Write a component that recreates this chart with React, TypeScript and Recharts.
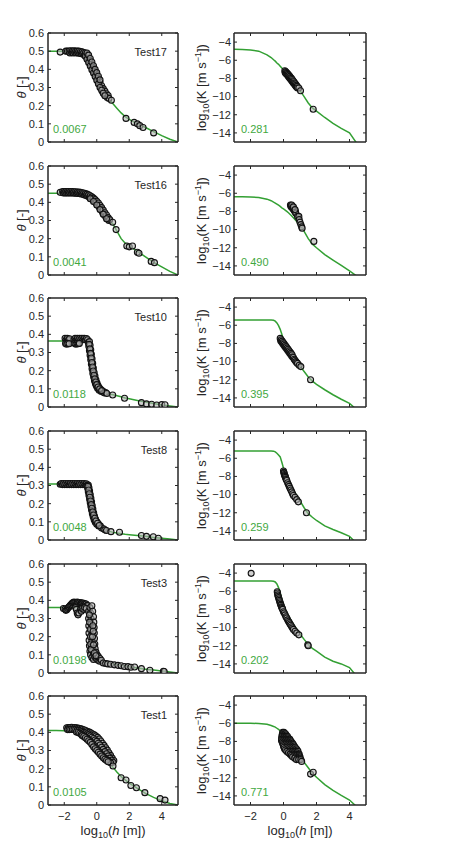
import { Fragment } from "react"
import { ComposedChart, Line, Scatter, XAxis, YAxis } from "recharts"

// log10(h) positions shared by every fitted curve
const hGrid = [-3, -2.5, -2, -1.5, -1, -0.75, -0.6, -0.5, -0.4, -0.3, -0.2, -0.1, 0, 0.1, 0.2, 0.3, 0.5, 0.75, 1, 1.25, 1.5, 1.75, 2, 2.5, 3, 3.5, 4, 4.5, 5]

const hTicks = [-2, 0, 2, 4]
const thetaTicks = [0, 0.1, 0.2, 0.3, 0.4, 0.5, 0.6]
const kTicks = [-14, -12, -10, -8, -6, -4]

// ---- Test17 ----
const test17ThetaFit = [0.5, 0.5, 0.5, 0.497, 0.485, 0.47, 0.458, 0.448, 0.435, 0.42, 0.403, 0.385, 0.365, 0.345, 0.322, 0.3, 0.265, 0.237, 0.21, 0.185, 0.16, 0.14, 0.125, 0.1, 0.08, 0.057, 0.035, 0.015, 0]
const test17KFit = [-4.8, -4.82, -4.88, -5.0, -5.4, -5.7, -5.95, -6.1, -6.3, -6.45, -6.65, -6.85, -7.05, -7.25, -7.45, -7.65, -8.1, -8.65, -9.35, -10.0, -10.7, -11.25, -11.6, -12.3, -12.95, -13.5, -14.0, -15.3, null]
const test17ThetaObs: [number, number][] = [
  [-2.25, 0.495], [-1.9, 0.5], [-1.8, 0.5],
  [-1.7, 0.5], [-1.65, 0.49], [-1.6, 0.502], [-1.55, 0.492], [-1.5, 0.5], [-1.45, 0.49], [-1.4, 0.502], [-1.35, 0.492],
  [-1.3, 0.5], [-1.25, 0.49], [-1.2, 0.5], [-1.15, 0.49], [-1.1, 0.5], [-1.05, 0.488], [-1.0, 0.498], [-0.95, 0.486],
  [-0.9, 0.496], [-0.85, 0.484], [-0.8, 0.492], [-0.75, 0.478], [-0.7, 0.49], [-0.65, 0.47], [-0.6, 0.48], [-0.55, 0.455],
  [-0.5, 0.465], [-0.45, 0.437], [-0.4, 0.447], [-0.35, 0.417], [-0.3, 0.427], [-0.25, 0.397], [-0.2, 0.407], [-0.15, 0.378],
  [-0.1, 0.389], [-0.05, 0.358], [0, 0.37], [0.05, 0.338], [0.1, 0.35], [0.15, 0.318], [0.2, 0.33], [0.25, 0.298],
  [0.3, 0.31], [0.35, 0.28], [0.4, 0.294], [0.45, 0.266], [0.5, 0.28], [0.55, 0.255], [0.6, 0.266], [0.65, 0.245],
  [0.7, 0.256], [0.75, 0.24],
  [-0.7, 0.472], [-0.6, 0.455], [-0.5, 0.437], [-0.4, 0.418], [-0.3, 0.398], [-0.2, 0.38], [-0.1, 0.36], [0, 0.34],
  [0.1, 0.32], [0.2, 0.3], [0.3, 0.285], [0.4, 0.268], [0.5, 0.255],
  [-0.6, 0.49], [-0.5, 0.478], [-0.4, 0.46], [-0.3, 0.44], [-0.2, 0.42], [-0.1, 0.4], [0, 0.382], [0.1, 0.362], [0.2, 0.342],
  [0.9, 0.23], [1.8, 0.13], [2.3, 0.108], [2.5, 0.1], [2.65, 0.09], [2.85, 0.08], [3.5, 0.05],
]
const test17KObs: [number, number][] = [
  [0.08, -7.15], [0.1, -7.35], [0.13, -7.25], [0.15, -7.45], [0.18, -7.35], [0.2, -7.55], [0.23, -7.45], [0.25, -7.65],
  [0.28, -7.55], [0.3, -7.78], [0.33, -7.65], [0.35, -7.9], [0.38, -7.78], [0.4, -8.0], [0.43, -7.9], [0.45, -8.12],
  [0.48, -8.0], [0.5, -8.25], [0.53, -8.12], [0.55, -8.37], [0.58, -8.25], [0.6, -8.5], [0.63, -8.37], [0.65, -8.6],
  [0.68, -8.5], [0.7, -8.72], [0.73, -8.62], [0.75, -8.85], [0.78, -8.75], [0.8, -8.95], [0.83, -8.88], [0.85, -9.05],
  [0.93, -9.05], [1.03, -9.35], [1.8, -11.4],
]

// ---- Test16 ----
const test16ThetaFit = [0.45, 0.45, 0.45, 0.448, 0.44, 0.435, 0.43, 0.425, 0.42, 0.41, 0.4, 0.39, 0.38, 0.37, 0.36, 0.35, 0.33, 0.305, 0.28, 0.24, 0.2, 0.175, 0.16, 0.13, 0.1, 0.07, 0.045, 0.02, 0]
const test16KFit = [-6.38, -6.38, -6.4, -6.47, -6.65, -6.82, -6.98, -7.08, -7.2, -7.32, -7.45, -7.6, -7.72, -7.85, -8.0, -8.15, -8.5, -9.0, -9.55, -10.2, -11.0, -11.6, -12.0, -12.75, -13.35, -13.95, -14.55, -15.2, null]
const test16ThetaObs: [number, number][] = [
  [-2.25, 0.455], [-2.1, 0.46], [-2.05, 0.452], [-2.0, 0.46], [-1.95, 0.452], [-1.9, 0.46], [-1.85, 0.452], [-1.8, 0.46],
  [-1.75, 0.452], [-1.7, 0.46], [-1.65, 0.452], [-1.6, 0.46], [-1.55, 0.452], [-1.5, 0.46], [-1.45, 0.452], [-1.4, 0.458],
  [-1.35, 0.45], [-1.3, 0.458], [-1.25, 0.45], [-1.2, 0.457], [-1.15, 0.449], [-1.1, 0.456], [-1.05, 0.448], [-1.0, 0.455],
  [-0.95, 0.446], [-0.9, 0.453], [-0.85, 0.444], [-0.8, 0.451], [-0.75, 0.441], [-0.7, 0.448], [-0.65, 0.438], [-0.6, 0.445],
  [-0.55, 0.434], [-0.5, 0.441], [-0.45, 0.428], [-0.4, 0.436], [-0.35, 0.422], [-0.3, 0.43], [-0.25, 0.415], [-0.2, 0.423],
  [-0.15, 0.406], [-0.1, 0.415], [-0.05, 0.397], [0, 0.406], [0.05, 0.386], [0.1, 0.396], [0.15, 0.374], [0.2, 0.384],
  [0.25, 0.361], [0.3, 0.371], [0.35, 0.347], [0.4, 0.357], [0.45, 0.333], [0.5, 0.343], [0.55, 0.32], [0.6, 0.33],
  [0.65, 0.308], [0.7, 0.316], [0.75, 0.3], [0.8, 0.305],
  [-0.4, 0.42], [-0.2, 0.405], [0, 0.385], [0.2, 0.36], [0.4, 0.335], [0.6, 0.31],
  [0.98, 0.29], [1.19, 0.25], [1.85, 0.16], [2.0, 0.155], [2.2, 0.16], [2.5, 0.125], [2.6, 0.12], [3.35, 0.075], [3.55, 0.068],
]
const test16KObs: [number, number][] = [
  [0.42, -7.3], [0.45, -7.45], [0.48, -7.35], [0.5, -7.55], [0.52, -7.45], [0.55, -7.65], [0.57, -7.55], [0.6, -7.75],
  [0.62, -7.7], [0.65, -7.9], [0.67, -7.85], [0.7, -8.05], [0.72, -8.0], [0.75, -8.2], [0.5, -7.3], [0.6, -7.5], [0.7, -7.8],
  [0.85, -8.55], [0.93, -8.55], [0.95, -8.9], [1.0, -9.2], [1.05, -9.45], [1.1, -9.7], [1.13, -9.85], [1.84, -11.3],
]

// ---- Test10 ----
const test10ThetaFit = [0.363, 0.363, 0.363, 0.363, 0.363, 0.362, 0.358, 0.345, 0.32, 0.285, 0.24, 0.18, 0.14, 0.118, 0.102, 0.092, 0.08, 0.072, 0.067, 0.062, 0.056, 0.05, 0.045, 0.036, 0.027, 0.019, 0.011, 0.005, 0]
const test10KFit = [-5.42, -5.42, -5.42, -5.42, -5.42, -5.42, -5.45, -5.55, -5.75, -6.05, -6.45, -7.0, -7.7, -8.0, -8.3, -8.6, -9.2, -9.85, -10.5, -11.1, -11.7, -12.15, -12.5, -13.1, -13.65, -14.15, -14.6, -15.4, null]
const test10ThetaObs: [number, number][] = [
  [-1.95, 0.378], [-1.88, 0.37], [-1.81, 0.378], [-1.74, 0.37], [-1.67, 0.376],
  [-1.4, 0.37], [-1.33, 0.378], [-1.26, 0.37], [-1.19, 0.378], [-1.12, 0.37], [-1.05, 0.378], [-0.98, 0.37], [-0.91, 0.378],
  [-0.84, 0.37], [-0.77, 0.378], [-0.7, 0.37], [-0.63, 0.377], [-0.56, 0.37],
  [-1.92, 0.35], [-1.85, 0.346], [-1.78, 0.35], [-1.7, 0.348], [-1.35, 0.35], [-1.28, 0.346], [-1.21, 0.35], [-1.14, 0.348], [-1.07, 0.35],
  [-0.52, 0.355], [-0.45, 0.36], [-0.49, 0.335], [-0.41, 0.34], [-0.45, 0.31], [-0.37, 0.315], [-0.41, 0.285], [-0.33, 0.29],
  [-0.37, 0.26], [-0.29, 0.265], [-0.33, 0.235], [-0.25, 0.24], [-0.29, 0.21], [-0.21, 0.215], [-0.24, 0.185], [-0.16, 0.19],
  [-0.19, 0.165], [-0.11, 0.17], [-0.14, 0.145], [-0.05, 0.15], [-0.08, 0.128], [0.01, 0.133], [-0.02, 0.115], [0.07, 0.12],
  [0.05, 0.103], [0.14, 0.108], [0.15, 0.092], [0.24, 0.097], [0.28, 0.085], [0.38, 0.088], [0.45, 0.078], [0.55, 0.08], [0.62, 0.074],
  [-0.47, 0.345], [-0.42, 0.32], [-0.38, 0.295], [-0.34, 0.27], [-0.3, 0.245], [-0.26, 0.22], [-0.22, 0.198], [-0.17, 0.175],
  [-0.12, 0.155], [-0.06, 0.138], [0, 0.123], [0.08, 0.11], [0.18, 0.1], [0.3, 0.09],
  [0.98, 0.066], [1.71, 0.048], [2.75, 0.024], [3.06, 0.017], [3.375, 0.015], [3.69, 0.011], [4.0, 0.013], [4.2, 0.012],
]
const test10KObs: [number, number][] = [
  [-0.2, -7.45], [-0.17, -7.7], [-0.14, -7.6], [-0.11, -7.85], [-0.08, -7.75], [-0.05, -8.0], [-0.02, -7.9], [0.01, -8.15],
  [0.04, -8.05], [0.07, -8.3], [0.1, -8.2], [0.13, -8.45], [0.16, -8.35], [0.19, -8.6], [0.22, -8.5], [0.25, -8.75],
  [0.28, -8.65], [0.31, -8.9], [0.34, -8.8], [0.37, -9.05], [0.4, -8.95], [0.43, -9.2], [0.46, -9.1], [0.49, -9.35],
  [0.52, -9.25], [0.55, -9.5], [0.6, -9.55], [0.65, -9.75], [0.7, -9.85], [0.75, -10.0], [0.8, -10.1], [0.85, -10.2],
  [0.95, -10.4], [1.05, -10.55], [1.64, -12.0],
]

// ---- Test8 ----
const test8ThetaFit = [0.308, 0.308, 0.308, 0.308, 0.308, 0.306, 0.295, 0.275, 0.235, 0.19, 0.145, 0.11, 0.092, 0.083, 0.076, 0.07, 0.058, 0.049, 0.042, 0.038, 0.034, 0.031, 0.029, 0.025, 0.02, 0.014, 0.009, 0.005, 0]
const test8KFit = [-5.2, -5.2, -5.2, -5.2, -5.2, -5.2, -5.22, -5.3, -5.45, -5.65, -5.85, -6.45, -7.1, -7.55, -8.0, -8.45, -9.25, -9.95, -10.7, -11.45, -12.1, -12.5, -12.85, -13.45, -13.85, -14.2, -14.6, -15.5, null]
const test8ThetaObs: [number, number][] = [
  [-2.25, 0.307], [-2.18, 0.311], [-2.11, 0.305], [-2.04, 0.311], [-1.97, 0.305], [-1.9, 0.311], [-1.83, 0.305], [-1.76, 0.311],
  [-1.69, 0.305], [-1.62, 0.311], [-1.55, 0.305], [-1.48, 0.311], [-1.41, 0.305], [-1.34, 0.311], [-1.27, 0.305], [-1.2, 0.311],
  [-1.13, 0.305], [-1.06, 0.311], [-0.99, 0.305], [-0.92, 0.311], [-0.85, 0.305], [-0.78, 0.311], [-0.71, 0.305], [-0.64, 0.31],
  [-0.58, 0.303],
  [-0.6, 0.3], [-0.52, 0.302], [-0.56, 0.285], [-0.48, 0.288], [-0.52, 0.265], [-0.44, 0.27], [-0.48, 0.245], [-0.4, 0.25],
  [-0.44, 0.225], [-0.36, 0.23], [-0.4, 0.205], [-0.32, 0.21], [-0.36, 0.185], [-0.28, 0.19], [-0.32, 0.165], [-0.24, 0.17],
  [-0.27, 0.145], [-0.19, 0.15], [-0.22, 0.128], [-0.14, 0.132], [-0.16, 0.112], [-0.08, 0.116], [-0.09, 0.098], [0, 0.102],
  [0, 0.087], [0.09, 0.09], [0.12, 0.077], [0.22, 0.078], [0.3, 0.066], [0.42, 0.062], [0.5, 0.056], [0.6, 0.052],
  [-0.54, 0.295], [-0.5, 0.275], [-0.46, 0.255], [-0.42, 0.235], [-0.38, 0.215], [-0.34, 0.195], [-0.3, 0.175], [-0.25, 0.155],
  [-0.2, 0.138], [-0.12, 0.12], [-0.05, 0.105], [0.05, 0.092], [0.15, 0.08],
  [0.875, 0.046], [1.4, 0.043], [2.75, 0.025], [3.06, 0.02], [3.48, 0.018], [3.79, 0.01],
]
const test8KObs: [number, number][] = [
  [0.0, -7.4], [0.02, -7.55], [0.04, -7.65], [0.05, -7.8], [0.08, -7.9], [0.1, -8.0], [0.12, -8.1], [0.15, -8.25],
  [0.17, -8.35], [0.2, -8.45], [0.25, -8.7], [0.3, -8.9], [0.35, -9.1], [0.4, -9.3], [0.45, -9.5], [0.5, -9.7],
  [0.55, -9.9], [0.6, -10.1], [0.7, -10.3], [0.8, -10.55], [0.9, -10.8], [1.39, -12.0],
]

// ---- Test3 ----
const test3ThetaFit = [0.36, 0.36, 0.36, 0.36, 0.36, 0.36, 0.36, 0.345, 0.26, 0.16, 0.125, 0.1, 0.088, 0.08, 0.074, 0.069, 0.061, 0.055, 0.05, 0.046, 0.042, 0.038, 0.034, 0.027, 0.021, 0.016, 0.011, 0.005, 0]
const test3KFit = [-4.87, -4.87, -4.87, -4.87, -4.87, -4.87, -4.9, -4.98, -5.2, -5.6, -6.2, -6.95, -7.5, -7.95, -8.35, -8.72, -9.35, -10.05, -10.7, -11.3, -11.85, -12.3, -12.6, -13.25, -13.7, -14.0, -14.4, -15.5, null]
const test3ThetaObs: [number, number][] = [
  [-2.05, 0.355], [-1.95, 0.352], [-1.9, 0.345], [-1.85, 0.348], [-1.8, 0.355], [-1.75, 0.36], [-1.7, 0.365], [-1.65, 0.37],
  [-1.6, 0.375], [-1.55, 0.38], [-1.5, 0.385], [-1.45, 0.388], [-1.4, 0.39], [-1.35, 0.388], [-1.3, 0.385], [-1.25, 0.38],
  [-1.2, 0.39], [-1.15, 0.388], [-1.1, 0.385], [-1.05, 0.388], [-1.0, 0.382], [-0.95, 0.386], [-0.9, 0.382], [-0.85, 0.385],
  [-0.8, 0.38], [-0.75, 0.382], [-0.7, 0.378], [-0.65, 0.38], [-0.6, 0.372], [-0.55, 0.37],
  [-1.3, 0.36], [-1.25, 0.35], [-1.2, 0.33], [-1.15, 0.32], [-1.1, 0.33], [-1.0, 0.35], [-0.95, 0.34], [-0.9, 0.355],
  [-0.8, 0.35], [-0.75, 0.36], [-0.65, 0.355],
  [-0.5, 0.34], [-0.5, 0.3], [-0.49, 0.26], [-0.48, 0.22], [-0.47, 0.18], [-0.45, 0.15], [-0.42, 0.12], [-0.38, 0.1],
  [-0.3, 0.085], [-0.2, 0.075],
  [-0.42, 0.36], [-0.38, 0.33], [-0.35, 0.3], [-0.33, 0.27], [-0.32, 0.24], [-0.31, 0.21], [-0.3, 0.18], [-0.28, 0.15],
  [-0.25, 0.125], [-0.2, 0.105], [-0.12, 0.09], [-0.03, 0.08], [0.08, 0.07], [0.18, 0.065],
  [-0.3, 0.37], [-0.25, 0.34], [-0.2, 0.31], [-0.18, 0.28], [-0.16, 0.25], [-0.15, 0.22], [-0.14, 0.19], [-0.12, 0.16],
  [-0.1, 0.135], [-0.05, 0.115], [0.02, 0.1], [0.1, 0.09], [0.2, 0.08], [0.28, 0.07],
  [-0.45, 0.32], [-0.44, 0.28], [-0.4, 0.24], [-0.39, 0.2], [-0.37, 0.16], [-0.35, 0.13], [-0.26, 0.2], [-0.24, 0.26],
  [-0.22, 0.23], [-0.2, 0.155], [-0.15, 0.11], [-0.05, 0.095],
  [0.4, 0.055], [0.55, 0.052], [0.67, 0.05], [0.85, 0.048], [1.08, 0.045], [1.3, 0.042], [1.5, 0.04], [1.7, 0.036],
  [1.92, 0.035], [2.1, 0.032], [2.33, 0.033], [2.75, 0.024], [3.27, 0.015], [4.1, 0.01], [4.15, 0.008],
]
const test3KObs: [number, number][] = [
  [-1.96, -4.03], [-0.38, -6.05], [-0.36, -6.2], [-0.35, -6.4], [-0.32, -6.55], [-0.3, -6.7], [-0.27, -6.85], [-0.25, -7.0],
  [-0.22, -7.15], [-0.2, -7.3], [-0.17, -7.45], [-0.15, -7.55], [-0.12, -7.7], [-0.1, -7.8], [-0.07, -7.9], [-0.05, -8.0],
  [0, -8.25], [0.05, -8.4], [0.1, -8.6], [0.15, -8.8], [0.2, -8.95], [0.25, -9.15], [0.3, -9.3], [0.35, -9.45],
  [0.4, -9.6], [0.45, -9.75], [0.5, -9.9], [0.55, -10.05], [0.6, -10.2], [0.7, -10.4], [0.8, -10.6], [0.93, -10.8],
  [1.47, -11.9], [1.5, -12.0],
]

// ---- Test1 ----
const test1ThetaFit = [0.41, 0.41, 0.409, 0.406, 0.4, 0.393, 0.387, 0.382, 0.375, 0.367, 0.358, 0.348, 0.337, 0.325, 0.312, 0.3, 0.278, 0.24, 0.207, 0.18, 0.157, 0.138, 0.12, 0.092, 0.064, 0.042, 0.023, 0.008, 0]
const test1KFit = [-6.0, -6.0, -6.0, -6.03, -6.12, -6.25, -6.35, -6.43, -6.55, -6.68, -6.83, -6.98, -7.13, -7.3, -7.45, -7.65, -8.1, -8.85, -9.6, -10.3, -10.9, -11.5, -11.95, -12.75, -13.4, -13.95, -14.45, -15.3, null]
const test1ThetaObs: [number, number][] = [
  [-1.85, 0.425], [-1.75, 0.426], [-1.65, 0.427], [-1.55, 0.428], [-1.45, 0.427], [-1.35, 0.426], [-1.25, 0.425], [-1.15, 0.423],
  [-1.05, 0.421], [-0.95, 0.419], [-0.85, 0.416], [-0.75, 0.413], [-0.65, 0.409], [-0.55, 0.405], [-0.45, 0.401], [-0.35, 0.396],
  [-0.25, 0.391], [-0.15, 0.386], [-0.05, 0.38], [0.05, 0.372], [0.15, 0.363], [0.25, 0.352], [0.35, 0.34], [0.45, 0.328],
  [0.55, 0.315], [0.65, 0.302], [0.75, 0.288], [0.85, 0.273], [0.95, 0.258], [1.05, 0.245],
  [-1.8, 0.415], [-1.7, 0.415], [-1.6, 0.416], [-1.5, 0.416], [-1.4, 0.415], [-1.3, 0.414], [-1.2, 0.412], [-1.1, 0.41],
  [-1.0, 0.407], [-0.9, 0.404], [-0.8, 0.4], [-0.7, 0.396], [-0.6, 0.391], [-0.5, 0.386], [-0.4, 0.38], [-0.3, 0.373],
  [-0.2, 0.366], [-0.1, 0.358], [0, 0.35], [0.1, 0.34], [0.2, 0.33], [0.3, 0.318], [0.4, 0.306], [0.5, 0.294],
  [0.6, 0.282], [0.7, 0.27], [0.8, 0.258], [0.9, 0.246], [1.0, 0.235],
  [-1.25, 0.402], [-1.15, 0.399], [-1.05, 0.395], [-0.95, 0.39], [-0.85, 0.385], [-0.75, 0.379], [-0.65, 0.372], [-0.55, 0.364],
  [-0.45, 0.356], [-0.35, 0.347], [-0.25, 0.337], [-0.15, 0.326], [-0.05, 0.315], [0.05, 0.304], [0.15, 0.293], [0.25, 0.282],
  [0.35, 0.272], [0.45, 0.263], [0.55, 0.255], [0.65, 0.247], [0.75, 0.24], [0.85, 0.232],
  [-0.9, 0.382], [-0.8, 0.377], [-0.7, 0.37], [-0.6, 0.362], [-0.5, 0.354], [-0.4, 0.345], [-0.3, 0.333], [-0.2, 0.32],
  [-0.1, 0.31], [0, 0.3], [0.1, 0.29], [0.2, 0.28], [0.3, 0.27], [0.4, 0.26], [0.5, 0.252], [0.6, 0.245], [0.7, 0.238],
  [1.0, 0.215], [1.5, 0.15], [1.8, 0.138], [2.1, 0.107], [2.44, 0.095], [2.96, 0.068], [3.9, 0.035], [4.2, 0.027],
]
const test1KObs: [number, number][] = [
  [-0.05, -7.0], [0.03, -7.0],
  [-0.06, -7.15], [0.05, -7.15], [0.12, -7.15],
  [-0.08, -7.3], [0.04, -7.3], [0.16, -7.3],
  [-0.09, -7.45], [0.03, -7.45], [0.14, -7.45], [0.24, -7.45],
  [-0.1, -7.6], [0.02, -7.6], [0.14, -7.6], [0.27, -7.6],
  [-0.11, -7.75], [0.02, -7.75], [0.15, -7.75], [0.3, -7.75], [0.38, -7.75],
  [-0.12, -7.9], [0.0, -7.9], [0.14, -7.9], [0.28, -7.9], [0.42, -7.9],
  [-0.08, -8.05], [0.06, -8.05], [0.2, -8.05], [0.34, -8.05], [0.48, -8.05],
  [-0.05, -8.2], [0.1, -8.2], [0.25, -8.2], [0.4, -8.2], [0.55, -8.2],
  [-0.02, -8.35], [0.14, -8.35], [0.3, -8.35], [0.45, -8.35], [0.6, -8.35],
  [0.0, -8.5], [0.18, -8.5], [0.34, -8.5], [0.5, -8.5], [0.65, -8.5],
  [0.03, -8.65], [0.22, -8.65], [0.4, -8.65], [0.56, -8.65], [0.7, -8.65],
  [0.06, -8.8], [0.26, -8.8], [0.45, -8.8], [0.62, -8.8], [0.78, -8.8],
  [0.12, -8.95], [0.32, -8.95], [0.5, -8.95], [0.68, -8.95], [0.83, -8.95],
  [0.2, -9.1], [0.4, -9.1], [0.57, -9.1], [0.74, -9.1], [0.88, -9.1],
  [0.3, -9.25], [0.48, -9.25], [0.64, -9.25], [0.8, -9.25],
  [0.4, -9.4], [0.56, -9.4], [0.72, -9.4], [0.87, -9.4], [0.95, -9.4],
  [0.48, -9.55], [0.65, -9.55], [0.8, -9.55], [0.95, -9.55],
  [0.55, -9.7], [0.72, -9.7], [0.88, -9.7], [1.0, -9.7],
  [0.68, -9.85], [0.85, -9.85], [1.0, -9.85],
  [0.78, -10.0], [0.92, -10.0], [1.05, -10.0],
  [1.1, -10.2], [1.64, -11.6], [1.8, -11.4],
]

const tests = [
  { name: "Test17", thetaScore: "0.0067", kScore: "0.281", thetaFit: test17ThetaFit, kFit: test17KFit, thetaObs: test17ThetaObs, kObs: test17KObs },
  { name: "Test16", thetaScore: "0.0041", kScore: "0.490", thetaFit: test16ThetaFit, kFit: test16KFit, thetaObs: test16ThetaObs, kObs: test16KObs },
  { name: "Test10", thetaScore: "0.0118", kScore: "0.395", thetaFit: test10ThetaFit, kFit: test10KFit, thetaObs: test10ThetaObs, kObs: test10KObs },
  { name: "Test8", thetaScore: "0.0048", kScore: "0.259", thetaFit: test8ThetaFit, kFit: test8KFit, thetaObs: test8ThetaObs, kObs: test8KObs },
  { name: "Test3", thetaScore: "0.0198", kScore: "0.202", thetaFit: test3ThetaFit, kFit: test3KFit, thetaObs: test3ThetaObs, kObs: test3KObs },
  { name: "Test1", thetaScore: "0.0105", kScore: "0.771", thetaFit: test1ThetaFit, kFit: test1KFit, thetaObs: test1ThetaObs, kObs: test1KObs },
]

const FONT = '"Liberation Sans", Arial, sans-serif'
const INK = "#262626"
const GREEN = "#33a033"
const GREEN_TEXT = "#3fa83f"
const ROW_TOPS = [33, 166, 298, 431, 564, 696]
const PLOT_H = 109
const PAD_T = 8
const AXIS_W = 48
const RIGHT_W = 8
const TICK = 3

const fmtTheta = (v: number) => (v === 0 ? "0" : v.toFixed(1))
const fmtSigned = (v: number) => (v < 0 ? "\u2212" + Math.abs(v) : String(v))

const leftTick = (fmt: (v: number) => string, gap: number) => (p: any) => (
  <g>
    <line x1={p.x} y1={p.y} x2={p.x + TICK} y2={p.y} stroke={INK} strokeWidth={1} />
    <text x={p.x - gap} y={p.y} dy="0.35em" textAnchor="end" fontSize={11} fontFamily={FONT} fill={INK}>
      {fmt(p.payload.value)}
    </text>
  </g>
)
const rightTick = (p: any) => <line x1={p.x} y1={p.y} x2={p.x - TICK} y2={p.y} stroke={INK} strokeWidth={1} />
const topTick = (p: any) => <line x1={p.x} y1={p.y} x2={p.x} y2={p.y + TICK} stroke={INK} strokeWidth={1} />
const bottomTick = (withText: boolean) => (p: any) => (
  <g>
    <line x1={p.x} y1={p.y} x2={p.x} y2={p.y - TICK} stroke={INK} strokeWidth={1} />
    {withText && (
      <text x={p.x} y={p.y + 11} dy="0.35em" textAnchor="middle" fontSize={11} fontFamily={FONT} fill={INK}>
        {fmtSigned(p.payload.value)}
      </text>
    )}
  </g>
)

// semi-transparent face so stacked edges in dense runs read darker
const marker = (p: any) => (
  <circle cx={p.cx} cy={p.cy} r={3} fill="#b0b0b0" fillOpacity={0.6} stroke="#111" strokeWidth={1.1} />
)

type PanelProps = {
  left: number
  top: number
  plotW: number
  kind: "theta" | "k"
  fit: (number | null)[]
  obs: [number, number][]
  name?: string
  score: string
  bottom: boolean
}

function Panel({ left, top, plotW, kind, fit, obs, name, score, bottom }: PanelProps) {
  const padB = bottom ? 48 : 10
  const width = AXIS_W + plotW + RIGHT_W
  const height = PAD_T + PLOT_H + padB
  const fitData = hGrid.map((h, i) => ({ h, v: fit[i] }))
  const obsData = obs.map(([h, v]) => ({ h, v }))
  const isTheta = kind === "theta"
  const yDomain = isTheta ? [0, 0.6] : [-15, -3]
  const yTicks = isTheta ? thetaTicks : kTicks
  const midY = PAD_T + PLOT_H / 2

  return (
    <div style={{ position: "absolute", left, top: top - PAD_T }}>
      <ComposedChart width={width} height={height} margin={{ top: 0, right: 0, bottom: 0, left: 0 }}>
        <XAxis
          xAxisId="b"
          type="number"
          dataKey="h"
          orientation="bottom"
          domain={[-3, 5]}
          allowDataOverflow
          ticks={hTicks}
          interval={0}
          height={padB}
          tickSize={0}
          tickMargin={0}
          tickLine={false}
          axisLine={{ stroke: INK, strokeWidth: 1.5 }}
          tick={bottomTick(bottom)}
        />
        <XAxis
          xAxisId="t"
          type="number"
          dataKey="h"
          orientation="top"
          domain={[-3, 5]}
          allowDataOverflow
          ticks={hTicks}
          interval={0}
          height={PAD_T}
          tickSize={0}
          tickMargin={0}
          tickLine={false}
          axisLine={{ stroke: INK, strokeWidth: 1.5 }}
          tick={topTick}
        />
        <YAxis
          yAxisId="l"
          type="number"
          orientation="left"
          domain={yDomain}
          allowDataOverflow
          ticks={yTicks}
          interval={0}
          width={AXIS_W}
          tickSize={0}
          tickMargin={0}
          tickLine={false}
          axisLine={{ stroke: INK, strokeWidth: 1.5 }}
          tick={leftTick(isTheta ? fmtTheta : fmtSigned, isTheta ? 4 : 3)}
        />
        <YAxis
          yAxisId="r"
          type="number"
          orientation="right"
          domain={yDomain}
          allowDataOverflow
          ticks={yTicks}
          interval={0}
          width={RIGHT_W}
          tickSize={0}
          tickMargin={0}
          tickLine={false}
          axisLine={{ stroke: INK, strokeWidth: 1.5 }}
          tick={rightTick}
        />
        <Scatter xAxisId="b" yAxisId="l" data={obsData} dataKey="v" shape={marker} isAnimationActive={false} />
        <Line
          xAxisId="b"
          yAxisId="l"
          data={fitData}
          dataKey="v"
          type="linear"
          stroke={GREEN}
          strokeWidth={1.5}
          dot={false}
          activeDot={false}
          isAnimationActive={false}
        />

        {isTheta ? (
          <text transform={`translate(21,${midY}) rotate(-90)`} textAnchor="middle" dy="0.35em" fontSize={13} fontFamily={FONT} fill={INK}>
            <tspan fontStyle="italic">θ</tspan> [-]
          </text>
        ) : (
          <text transform={`translate(15.5,${midY}) rotate(-90)`} textAnchor="middle" dy="0.35em" fontSize={13} fontFamily={FONT} fill={INK}>
            log<tspan fontSize={9} dy={3}>10</tspan>
            <tspan dy={-3}>(K [m s</tspan>
            <tspan fontSize={9} dy={-5}>{"\u2212"}1</tspan>
            <tspan dy={5}>])</tspan>
          </text>
        )}
        {name && (
          <text x={AXIS_W + plotW - 11} y={PAD_T + 23} textAnchor="end" fontSize={11} fontFamily={FONT} fill={INK}>
            {name}
          </text>
        )}
        <text x={AXIS_W + (isTheta ? 5 : 7)} y={PAD_T + PLOT_H - 9} fontSize={11} fontFamily={FONT} fill={GREEN_TEXT}>
          {score}
        </text>
        {bottom && (
          <text x={AXIS_W + plotW / 2} y={PAD_T + PLOT_H + 30} textAnchor="middle" fontSize={13} fontFamily={FONT} fill={INK}>
            log<tspan fontSize={9} dy={3}>10</tspan>
            <tspan dy={-3}>(</tspan>
            <tspan fontStyle="italic">h</tspan> [m])
          </text>
        )}
      </ComposedChart>
    </div>
  )
}

export default function App() {
  return (
    <div style={{ position: "absolute", left: 0, top: 0, width: 474, height: 853, background: "#fff", fontFamily: FONT }}>
      {tests.map((t, i) => (
        <Fragment key={t.name}>
          <Panel
            left={0}
            top={ROW_TOPS[i]}
            plotW={130}
            kind="theta"
            fit={t.thetaFit}
            obs={t.thetaObs}
            name={t.name}
            score={t.thetaScore}
            bottom={i === tests.length - 1}
          />
          <Panel
            left={186}
            top={ROW_TOPS[i]}
            plotW={132}
            kind="k"
            fit={t.kFit}
            obs={t.kObs}
            score={t.kScore}
            bottom={i === tests.length - 1}
          />
        </Fragment>
      ))}
    </div>
  )
}
